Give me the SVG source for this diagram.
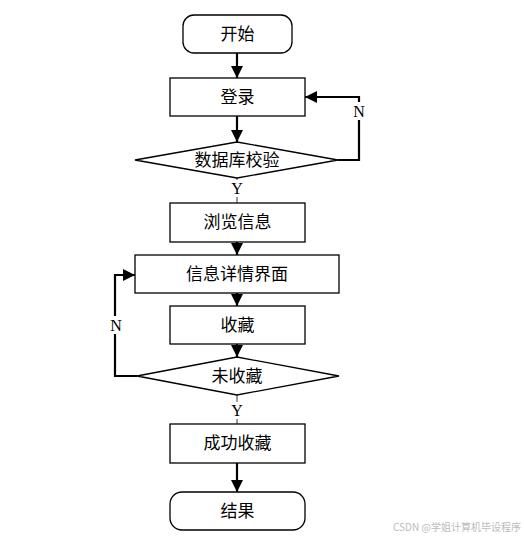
<svg xmlns="http://www.w3.org/2000/svg" width="524" height="537" viewBox="0 0 524 537">
<style>
.box{fill:#fff;stroke:#000;stroke-width:1.3}
.t{font-family:"Liberation Serif","Noto Sans CJK SC",serif;font-size:17px;fill:#000;text-anchor:middle;dominant-baseline:central}
.lbl{font-family:"Liberation Serif","Noto Sans CJK SC",serif;font-size:16px;fill:#000;text-anchor:middle;dominant-baseline:central}
.c{fill:none;stroke:#000;stroke-width:2.2}
.thin{fill:none;stroke:#000;stroke-width:0.8}
.wm{font-family:"Noto Sans CJK SC",sans-serif;font-size:10px;fill:#bbb}
</style>
<defs>
<marker id="ah" markerWidth="12" markerHeight="12" viewBox="0 0 12 12" refX="12" refY="6" orient="auto" markerUnits="userSpaceOnUse">
<path d="M0,0 L12,6 L0,12 Z" fill="#000"/>
</marker>
</defs>
<g id="connectors">
<line class="c" x1="237" y1="53" x2="237" y2="78" marker-end="url(#ah)"/>
<line class="c" x1="237" y1="116" x2="237" y2="142" marker-end="url(#ah)"/>
<polyline class="c" points="338,160 359,160 359,97 305,97" marker-end="url(#ah)"/>
<line class="thin" x1="237" y1="178" x2="237" y2="203"/>
<line class="c" x1="237" y1="242" x2="237" y2="255" marker-end="url(#ah)"/>
<line class="c" x1="237" y1="293" x2="237" y2="306" marker-end="url(#ah)"/>
<line class="c" x1="237" y1="344" x2="237" y2="357" marker-end="url(#ah)"/>
<polyline class="c" points="137,376 115,376 115,275 135,275" marker-end="url(#ah)"/>
<line class="thin" x1="237" y1="395" x2="237" y2="424"/>
<line class="c" x1="237" y1="463" x2="237" y2="492" marker-end="url(#ah)"/>
<rect x="229" y="180" width="16" height="17" fill="#fff"/>
<text class="lbl" x="237" y="188">Y</text>
<rect x="229" y="402" width="16" height="17" fill="#fff"/>
<text class="lbl" x="237" y="410">Y</text>
<rect x="352" y="102" width="14" height="18" fill="#fff"/>
<text class="lbl" x="359" y="111">N</text>
<rect x="108" y="316" width="14" height="18" fill="#fff"/>
<text class="lbl" x="116" y="325">N</text>
</g>
<g id="start"><rect class="box" x="183" y="15" width="109" height="38" rx="11"/><text class="t" x="237.5" y="34">开始</text></g>
<g id="login"><rect class="box" x="170" y="78" width="135" height="38"/><text class="t" x="237.5" y="97">登录</text></g>
<g id="dbcheck"><polygon class="box" points="135,160 237,142 338,160 237,178"/><text class="t" x="237" y="160">数据库校验</text></g>
<g id="browse"><rect class="box" x="170" y="203" width="135" height="39"/><text class="t" x="237.5" y="222.5">浏览信息</text></g>
<g id="detail"><rect class="box" x="135" y="255" width="204" height="38"/><text class="t" x="237" y="274">信息详情界面</text></g>
<g id="fav"><rect class="box" x="170" y="306" width="135" height="38"/><text class="t" x="237.5" y="325">收藏</text></g>
<g id="notfav"><polygon class="box" points="137,376 237,357 339,376 237,395"/><text class="t" x="237" y="376">未收藏</text></g>
<g id="success"><rect class="box" x="170" y="424" width="135" height="39"/><text class="t" x="237.5" y="443.5">成功收藏</text></g>
<g id="end"><rect class="box" x="170" y="492" width="135" height="38" rx="12"/><text class="t" x="237.5" y="511">结果</text></g>
<text class="wm" x="393" y="531">CSDN @学姐计算机毕设程序</text>
</svg>
